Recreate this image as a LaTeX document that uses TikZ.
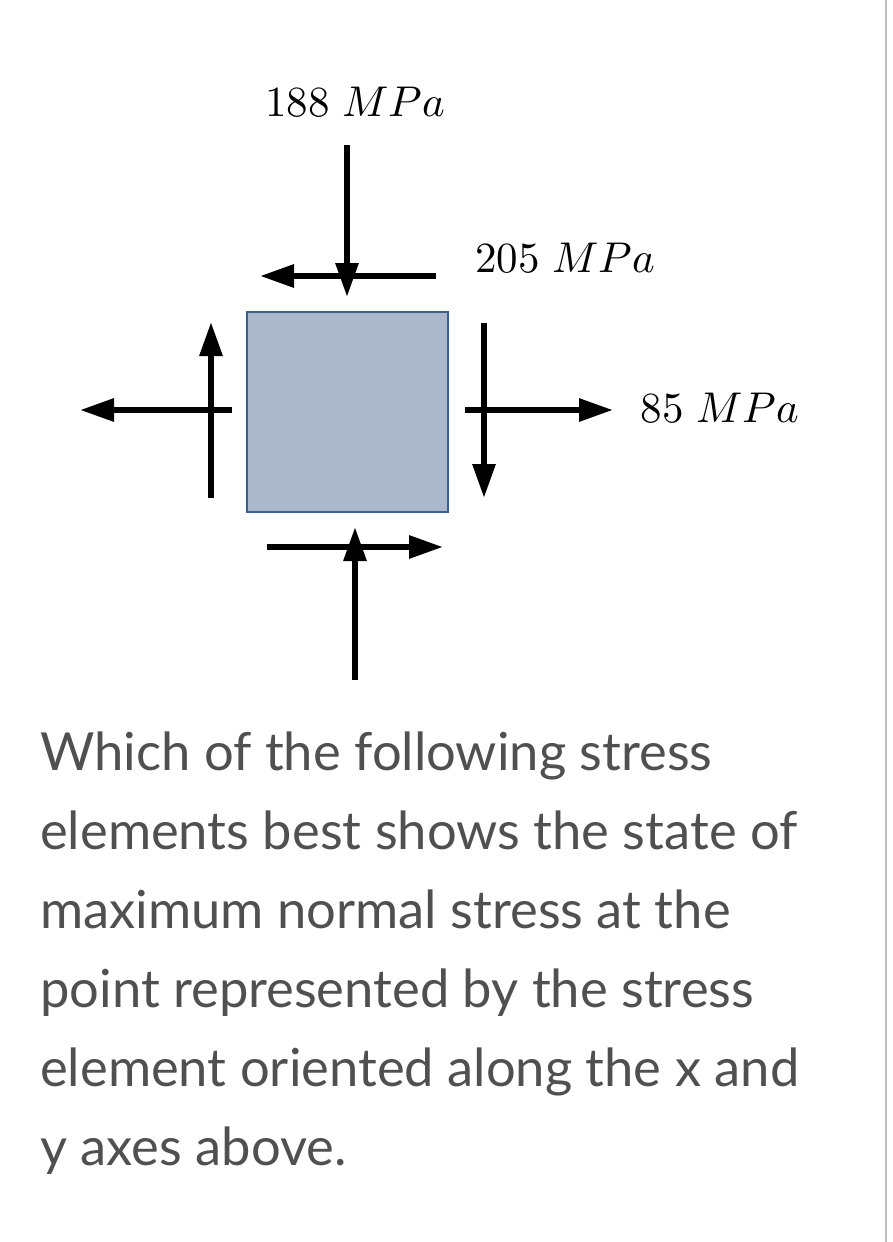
\documentclass[tikz,border=0pt]{standalone}
\usepackage{fontspec}
\usepackage{unicode-math}
\setmathfont{Latin Modern Math}
\newfontfamily\latofont{Lato}
\usetikzlibrary{arrows.meta}
\definecolor{elemfill}{HTML}{ABB8CC}
\definecolor{elemedge}{HTML}{3F5E8C}
\definecolor{txtgray}{HTML}{505050}
\tikzset{
  force/.style={line width=6pt,-{Triangle[length=34pt,width=22pt]}},
  lab/.style={font=\fontsize{43}{43}\selectfont},
  para/.style={anchor=base west,inner sep=0pt,text=txtgray,font=\latofont\fontsize{52.5}{52.5}\selectfont}
}
\begin{document}
\begin{tikzpicture}[x=1pt,y=-1pt]
\useasboundingbox (0,0) rectangle (893,1242);
\draw[line width=2pt,black!25] (886,0) -- (886,1242);
\node[draw=elemedge,line width=2pt,fill=elemfill,minimum width=201pt,minimum height=200pt,inner sep=0pt] (sq) at (347.5,412) {};
% top
\coordinate (t1) at (347,145); \coordinate (t2) at (347,297);
\draw[force] (t1) -- (t2);
\coordinate (ts1) at (436,276); \coordinate (ts2) at (260,276);
\draw[force] (ts1) -- (ts2);
% left
\coordinate (l1) at (232,410); \coordinate (l2) at (80,410);
\draw[force] (l1) -- (l2);
\coordinate (ls1) at (211,498); \coordinate (ls2) at (211,322);
\draw[force] (ls1) -- (ls2);
% right
\coordinate (r1) at (465,410); \coordinate (r2) at (613,410);
\draw[force] (r1) -- (r2);
\coordinate (rs1) at (484,323); \coordinate (rs2) at (484,498);
\draw[force] (rs1) -- (rs2);
% bottom
\coordinate (b1) at (267,547); \coordinate (b2) at (443,547);
\draw[force] (b1) -- (b2);
\coordinate (bs1) at (355,680); \coordinate (bs2) at (355,527);
\draw[force] (bs1) -- (bs2);
% labels
\node[lab] (la) at (355,102) {$188\ MPa$};
\node[lab] (lb) at (565,258) {$205\ MPa$};
\node[lab] (lc) at (720,408) {$85\ MPa$};
% paragraph
\node[para] (p1) at (40,770) {Which of the following stress};
\node[para] (p2) at (40,849) {elements best shows the state of};
\node[para] (p3) at (40,928) {maximum normal stress at the};
\node[para] (p4) at (40,1007) {point represented by the stress};
\node[para] (p5) at (40,1086) {element oriented along the x and};
\node[para] (p6) at (40,1165) {y axes above.};
\end{tikzpicture}
\end{document}
